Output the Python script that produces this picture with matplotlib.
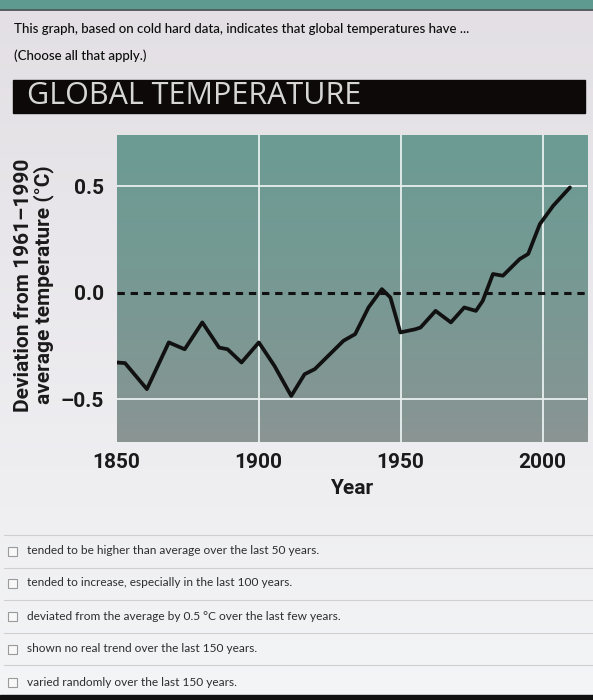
"""Global temperature question card, redrawn from a screen photo."""
import matplotlib.pyplot as plt
import numpy as np
from matplotlib.patches import Rectangle

# values (deviation from 1961-1990 mean, deg C)
years = [1850.1, 1853, 1860.7, 1868.4, 1874.0, 1880.2, 1886.1, 1889.1,
         1894.0, 1900.1, 1905.6, 1911.5, 1916.2, 1919.8, 1929.9, 1934.0,
         1938.7, 1943.4, 1946.4, 1949.9, 1955.2, 1957.0, 1962.3, 1967.7,
         1972.4, 1976.5, 1978.9, 1982.5, 1986.0, 1991.9, 1994.9, 1999.0,
         2003.7, 2009.6]
anomaly = [-0.327, -0.33, -0.452, -0.233, -0.265, -0.139, -0.257, -0.265,
           -0.327, -0.233, -0.343, -0.484, -0.382, -0.358, -0.225, -0.194,
           -0.069, 0.017, -0.022, -0.186, -0.171, -0.163, -0.085, -0.139,
           -0.069, -0.085, -0.038, 0.088, 0.080, 0.158, 0.182, 0.322,
           0.408, 0.494]

xticks = [1850, 1900, 1950, 2000]
yticks = [-0.5, 0.0, 0.5]
ytick_labels = ['\u20130.5', '0.0', '0.5']

question = 'This graph, based on cold hard data, indicates that global temperatures have ...'
hint = '(Choose all that apply.)'
title = 'GLOBAL TEMPERATURE'
options = [
    'tended to be higher than average over the last 50 years.',
    'tended to increase, especially in the last 100 years.',
    'deviated from the average by 0.5 \u00b0C over the last few years.',
    'shown no real trend over the last 150 years.',
    'varied randomly over the last 150 years.',
]

W, H = 593, 700


def fx(px):
    return px / W


def fy(py):
    return 1 - py / H


fig = plt.figure(figsize=(W / 100, H / 100), dpi=100)

# page background (row 0 = top)
bg = fig.add_axes([0, 0, 1, 1], zorder=-10)
grad = np.linspace(0, 1, 256).reshape(-1, 1)
page = np.array([0.89, 0.875, 0.895]) * (1 - grad) + np.array([0.955, 0.96, 0.968]) * grad
bg.imshow(page[:, None, :].repeat(2, axis=1), extent=[0, 1, 0, 1], aspect='auto')
bg.set_xlim(0, 1)
bg.set_ylim(0, 1)
bg.axis('off')

# top strip and bottom strip
fig.patches.append(Rectangle((0, fy(8)), 1, 8 / H, transform=fig.transFigure,
                             color='#5f9a90', zorder=1))
fig.lines.append(plt.Line2D([0, 1], [fy(9.5), fy(9.5)], transform=fig.transFigure,
                            color='#3b4a48', lw=1.2))
fig.patches.append(Rectangle((0, 0), 1, 5 / H, transform=fig.transFigure,
                             color='#111111', zorder=1))

# header text
fig.text(fx(14), fy(29), question, family='Lato', fontsize=9.5,
         fontweight='medium', color='#0d0d0d', va='center')
fig.text(fx(14), fy(56), hint, family='Lato', fontsize=9.5,
         fontweight='medium', color='#0d0d0d', va='center')

# title banner
fig.patches.append(Rectangle((fx(13), fy(113)), fx(585) - fx(13), 33 / H,
                             transform=fig.transFigure, color='#0e0909', zorder=1))
fig.text(fx(27), fy(96), title, family='Open Sans', fontsize=22,
         fontweight='medium', color='#d6d6d6', va='center', zorder=2)

# chart
ax = fig.add_axes([fx(116.5), fy(442), fx(587) - fx(116.5), fy(135) - fy(442)])
mix = (1 - grad) ** 0.7
plot_bg = np.array([0.42, 0.61, 0.58]) * mix + np.array([0.55, 0.58, 0.58]) * (1 - mix)
ax.imshow(plot_bg[:, None, :].repeat(2, axis=1), extent=[0, 1, 0, 1],
          transform=ax.transAxes, aspect='auto', zorder=0)
ax.set_xlim(1850, 2015.6)
ax.set_ylim(-0.70, 0.74)
for v in [-0.5, 0.5]:
    ax.axhline(v, color='#e8f0ee', lw=1.3, zorder=1)
for v in xticks[1:]:
    ax.axvline(v, color='#e8f0ee', lw=1.3, zorder=1)
ax.axhline(0, color='#111111', lw=2.2, dashes=(2.4, 1.9), zorder=2)
ax.plot(years, anomaly, color='#111111', lw=2.7, solid_joinstyle='round',
        solid_capstyle='round', zorder=3)

for s in ax.spines.values():
    s.set_visible(False)
ax.set_xticks(xticks)
ax.set_xticklabels([str(x) for x in xticks])
ax.set_yticks(yticks)
ax.set_yticklabels(ytick_labels)
ax.tick_params(length=0, labelsize=15, colors='#1a1a1a')
ax.tick_params(axis='x', pad=8)
ax.tick_params(axis='y', pad=9)
for lbl in ax.get_xticklabels() + ax.get_yticklabels():
    lbl.set_family('Roboto')
    lbl.set_fontweight('bold')
ax.set_xlabel('Year', family='Roboto', fontweight='bold', fontsize=15,
              color='#1a1a1a', labelpad=5)

fig.text(fx(34), fy(285), 'Deviation from 1961\u20131990\naverage temperature (\u00b0C)',
         rotation=90, ha='center', va='center', multialignment='center',
         family='Roboto', fontweight='bold', fontsize=15, color='#1a1a1a',
         linespacing=1.0)

# answer options
sep_y = [535, 568, 600, 633, 665]
text_y = [551, 583, 616, 649, 682]
for sy in sep_y:
    fig.lines.append(plt.Line2D([fx(4), 1], [fy(sy), fy(sy)], transform=fig.transFigure,
                                color='#cfcfd2', lw=0.8))
for ty, opt in zip(text_y, options):
    fig.patches.append(Rectangle((fx(8), fy(ty + 4.5)), 9 / W, 9 / H,
                                 transform=fig.transFigure, facecolor='#f8f8f8',
                                 edgecolor='#9a9a9a', lw=0.8, zorder=2))
    fig.text(fx(27), fy(ty), opt, family='Lato', fontsize=8.6,
             color='#2e2e2e', va='center')

fig.savefig('out.png', dpi=100)
